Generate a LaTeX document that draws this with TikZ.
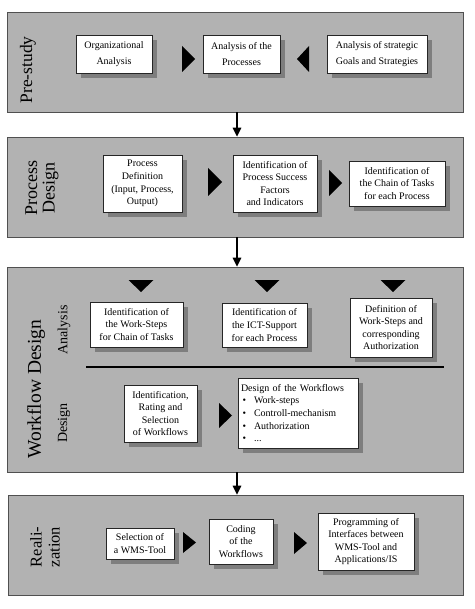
\documentclass[tikz,border=0pt]{standalone}
\usepackage{fontspec}
\setmainfont{Liberation Serif}
\usepackage{tikz}
\usetikzlibrary{arrows.meta,positioning,calc,shadows}
\definecolor{panelgray}{HTML}{B2B2B2}
\definecolor{framegray}{HTML}{505050}
\definecolor{shadowgray}{HTML}{7E7E7E}
\tikzset{
  panel/.style={draw=framegray, fill=panelgray, line width=0.8pt, minimum width=456pt, inner sep=0pt},
  box/.style={draw=black!85, fill=white, line width=0.6pt, align=center, inner sep=2pt,
    font=\fontsize{10}{12.6}\selectfont,
    copy shadow={shadow xshift=5pt, shadow yshift=-5pt, fill=shadowgray, draw=none}},
  lbl/.style={rotate=90, align=center, font=\fontsize{18}{17.5}\selectfont},
  sublbl/.style={rotate=90, align=center, font=\fontsize{14}{14}\selectfont},
  arr/.style={-{Triangle[length=9pt,width=8.5pt]}, line width=1.6pt, black},
}

\begin{document}
\begin{tikzpicture}[x=1pt,y=-1pt]
        \useasboundingbox[fill=white] (0,0) rectangle (474,609);
        \coordinate (axis) at (237,0);
        % phases
        \node[panel, minimum height=100pt] (ps) at (235,62) {};
        \node[panel, minimum height=100pt] (pd) at (235,187) {};
        \node[panel, minimum height=205pt] (wd) at (235,369.5) {};
        \node[panel, minimum height=100pt, minimum width=455pt] (re) at (235.5,545) {};
        \draw[arr] (ps.south -| axis) -- (pd.north -| axis);
        \draw[arr] (pd.south -| axis) -- (wd.north -| axis);
        \draw[arr] (wd.south -| axis) -- (re.north -| axis);

        % Pre-study
        \node[lbl, font=\fontsize{17.5}{17.5}\selectfont] (lps) at (28,70) {Pre-study};
        \node[box, minimum width=76pt, minimum height=38pt] (oa) at (114,54) {Organizational\\[3pt]Analysis};
        \node[box, minimum width=77pt, minimum height=38pt] (ap) at (241.5,54) {Analysis of the\\[3pt]Processes};
        \node[box, minimum width=100pt, minimum height=38pt] (ag) at (377,54) {Analysis of strategic\\[3pt]Goals and Strategies};
        \fill (182,46) -- (195,59) -- (182,72) -- cycle;
        \fill (309,46) -- (297,59) -- (309,72) -- cycle;

        % Process Design
        \node[lbl] (lpd) at (42,188) {Process\\Design};
        \node[box, minimum width=79pt, minimum height=57pt] (pdef) at (142.5,183.5) {Process\\Definition\\(Input, Process,\\Output)};
        \node[box, minimum width=84pt, minimum height=57pt] (psf) at (275,183.5) {Identification of\\Process Success\\Factors\\and Indicators};
        \node[box, minimum width=96pt, minimum height=45pt] (pct) at (397,183.5) {Identification of\\the Chain of Tasks\\for each Process};
        \fill (208,168) -- (222,182) -- (208,196) -- cycle;
        \fill (329,170) -- (342,183) -- (329,196) -- cycle;

        % Workflow Design
        \node[lbl, font=\fontsize{19.5}{19.5}\selectfont] (lwd) at (36,389) {Workflow Design};
        \node[sublbl] (lan) at (64,330) {Analysis};
        \node[sublbl] (lde) at (64,423) {Design};
        \foreach \cx in {141,267,393}
          \fill (\cx-12.5,280) -- (\cx+12.5,280) -- (\cx,292) -- cycle;
        \node[box, minimum width=93pt, minimum height=45pt] (aws) at (136.5,324.5) {Identification of\\the Work-Steps\\for Chain of Tasks};
        \node[box, minimum width=85pt, minimum height=44pt] (ais) at (264.5,325) {Identification of\\the ICT-Support\\for each Process};
        \node[box, minimum width=82pt, minimum height=59pt] (adw) at (391,327.5) {Definition of\\Work-Steps and\\corresponding\\Authorization};
        \coordinate (sepl) at (86,367);
        \coordinate (sepr) at (444,367);
        \draw[line width=1.6pt] (sepl) -- (sepr);
        \node[box, minimum width=73pt, minimum height=57pt] (drs) at (160.5,413.5) {Identification,\\Rating and\\Selection\\of Workflows};
        \node[box, align=left, text width=114pt, inner sep=3pt, minimum height=70pt] (ddw) at (298,413)
          {Design of the Workflows\\
           \hspace*{1.5pt}\textbullet\hspace{8pt}Work-steps\\
           \hspace*{1.5pt}\textbullet\hspace{8pt}Controll-mechanism\\
           \hspace*{1.5pt}\textbullet\hspace{8pt}Authorization\\
           \hspace*{1.5pt}\textbullet\hspace{8pt}...};
        \fill (219,403) -- (232,415.5) -- (219,428) -- cycle;

        % Realization
        \node[lbl, font=\fontsize{16.5}{18}\selectfont] (lre) at (45,547) {Reali-\\zation};
        \node[box, minimum width=68pt, minimum height=31pt] (rst) at (140,543.5) {Selection of\\a WMS-Tool};
        \node[box, minimum width=64pt, minimum height=45pt] (rcw) at (241,541.5) {Coding\\of the\\Workflows};
        \node[box, minimum width=96pt, minimum height=57pt] (rpi) at (366,541.5) {Programming of\\Interfaces between\\WMS-Tool and\\Applications/IS};
        \fill (183,532) -- (196,542.5) -- (183,553) -- cycle;
        \fill (294,532) -- (307,543) -- (294,554) -- cycle;
      \end{tikzpicture}
\end{document}
